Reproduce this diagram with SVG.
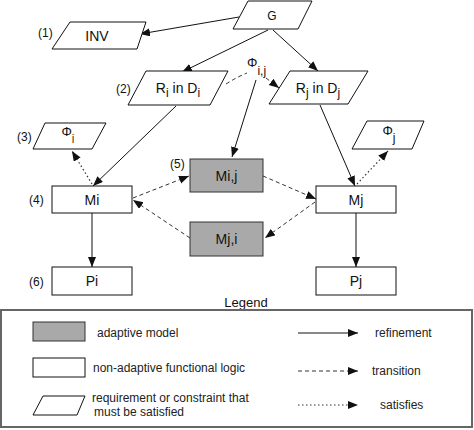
<svg xmlns="http://www.w3.org/2000/svg" width="474" height="430" viewBox="0 0 474 430">
<style>
text{font-family:"Liberation Sans",Arial,sans-serif;fill:#111}
.n{font-size:14px;text-anchor:middle}
.lb{font-size:12px}
.lg{font-size:12px;fill:#222}
.sh{fill:#fff;stroke:#111;stroke-width:1}
.ad{fill:#a9a9a9;stroke:#333;stroke-width:1}
.solid{fill:none;stroke:#111;stroke-width:1}
.dash{fill:none;stroke:#333;stroke-width:1;stroke-dasharray:4,3}
.dot{fill:none;stroke:#333;stroke-width:1.2;stroke-dasharray:1.5,2.5}
</style>
<defs>
<marker id="ah" markerUnits="userSpaceOnUse" markerWidth="11" markerHeight="9" refX="10" refY="4" orient="auto">
<path d="M0,0 L10,4 L0,8 z" fill="#111"/>
</marker>
</defs>
<rect width="474" height="430" fill="#fff"/>

<g id="connectors">
<line class="solid" x1="239" y1="17" x2="140" y2="34" marker-end="url(#ah)"/>
<line class="solid" x1="268" y1="30" x2="182" y2="72" marker-end="url(#ah)"/>
<line class="solid" x1="273" y1="30" x2="318" y2="71" marker-end="url(#ah)"/>
<path class="dash" d="M226,84 Q237,77 247,73 M266,78 L279,88" marker-end="url(#ah)"/>
<line class="solid" x1="256" y1="80" x2="232" y2="157" marker-end="url(#ah)"/>
<line class="solid" x1="176" y1="106" x2="93" y2="186" marker-end="url(#ah)"/>
<line class="solid" x1="320" y1="105" x2="355" y2="186" marker-end="url(#ah)"/>
<line class="dot" x1="92" y1="184" x2="72" y2="151" marker-end="url(#ah)"/>
<line class="dot" x1="357" y1="184" x2="388" y2="151" marker-end="url(#ah)"/>
<line class="dash" x1="133" y1="198" x2="189" y2="176" marker-end="url(#ah)"/>
<line class="dash" x1="190" y1="238" x2="133" y2="200" marker-end="url(#ah)"/>
<line class="dash" x1="263" y1="176" x2="316" y2="199" marker-end="url(#ah)"/>
<line class="dash" x1="315" y1="202" x2="265" y2="238" marker-end="url(#ah)"/>
<line class="solid" x1="92" y1="213" x2="92" y2="267" marker-end="url(#ah)"/>
<line class="solid" x1="356" y1="213" x2="356" y2="267" stroke-width="1.5" marker-end="url(#ah)"/>
</g>

<g id="G">
<polygon class="sh" points="248,1 312,1 298,29 233,29"/>
<text x="272" y="19.5" font-size="12" text-anchor="middle">G</text>
</g>
<g id="INV">
<polygon class="sh" points="70,22 146,22 137,49 52,49"/>
<text class="n" x="97" y="41">INV</text>
<text class="lb" x="38" y="37">(1)</text>
</g>
<g id="Ri">
<polygon class="sh" points="146,71 228,71 210,105 128,105"/>
<text class="n" x="178" y="93">R<tspan dy="4" font-size="12">i</tspan><tspan dy="-4"> in D</tspan><tspan dy="4" font-size="12">i</tspan></text>
<text class="lb" x="116" y="93">(2)</text>
</g>
<g id="Rj">
<polygon class="sh" points="290,71 368,71 348,104 269,104"/>
<text class="n" x="318" y="93">R<tspan dy="4" font-size="12">j</tspan><tspan dy="-4"> in D</tspan><tspan dy="4" font-size="12">j</tspan></text>
</g>
<g id="Phiij">
<text x="247" y="67" font-size="13">Φ<tspan dy="8" font-size="12">i,j</tspan></text>
</g>
<g id="Phii">
<polygon class="sh" points="45,123 106,123 92,149 33,149"/>
<text x="68" y="136" font-size="13" text-anchor="middle">Φ<tspan dy="7" font-size="12" fill="#6a2a10">i</tspan></text>
<text class="lb" x="17" y="141">(3)</text>
</g>
<g id="Phij">
<polygon class="sh" points="367,121 424,121 412,149 352,149"/>
<text x="389" y="135" font-size="13" text-anchor="middle">Φ<tspan dy="7" font-size="12">j</tspan></text>
</g>
<g id="Mi">
<rect class="sh" x="52" y="186" width="80" height="27"/>
<text class="n" x="92" y="204.5">Mi</text>
<text class="lb" x="29" y="204">(4)</text>
</g>
<g id="Mij">
<rect class="ad" x="190" y="159" width="73" height="33"/>
<text class="n" x="226.5" y="180.5">Mi,j</text>
<text class="lb" x="170" y="168">(5)</text>
</g>
<g id="Mji">
<rect class="ad" x="190" y="222" width="73" height="34"/>
<text class="n" x="226.5" y="244">Mj,i</text>
</g>
<g id="Mj">
<rect class="sh" x="316" y="186" width="80" height="27"/>
<text class="n" x="356" y="204.5">Mj</text>
</g>
<g id="Pi">
<rect class="sh" x="52" y="267" width="80" height="28"/>
<text class="n" x="92" y="286">Pi</text>
<text class="lb" x="29" y="286">(6)</text>
</g>
<g id="Pj">
<rect class="sh" x="316" y="267" width="80" height="28"/>
<text class="n" x="356" y="286">Pj</text>
</g>

<g id="legend">
<text x="246" y="307" font-size="13" text-anchor="middle" fill="#222">Legend</text>
<rect x="1" y="310" width="471" height="117" fill="none" stroke="#666" stroke-width="2"/>
<rect class="ad" x="33" y="322" width="52" height="19"/>
<text class="lg" x="97" y="337" font-size="13">adaptive model</text>
<rect class="sh" x="33" y="358" width="52" height="19"/>
<text class="lg" x="93" y="372">non-adaptive functional logic</text>
<polygon class="sh" points="43,396 85,396 77,415 33,415"/>
<text class="lg" x="92" y="402">requirement or constraint that</text>
<text class="lg" x="94" y="416">must be satisfied</text>
<line class="solid" x1="298" y1="333" x2="358" y2="333" marker-end="url(#ah)"/>
<text class="lg" x="375" y="337" font-size="13">refinement</text>
<line class="dash" x1="298" y1="371" x2="358" y2="371" marker-end="url(#ah)"/>
<text class="lg" x="372" y="375" font-size="13">transition</text>
<line class="dot" x1="298" y1="405" x2="358" y2="405" marker-end="url(#ah)"/>
<text class="lg" x="380" y="409" font-size="13">satisfies</text>
</g>
</svg>
